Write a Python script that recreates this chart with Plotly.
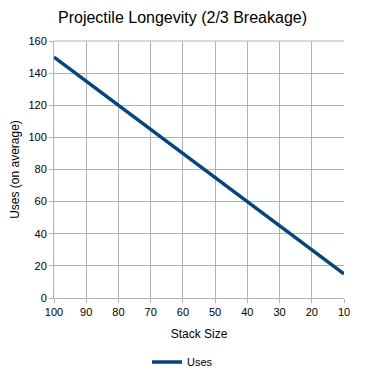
import plotly.graph_objects as go

stack_size = [100, 90, 80, 70, 60, 50, 40, 30, 20, 10]
uses = [150, 135, 120, 105, 90, 75, 60, 45, 30, 15]
series_name = "Uses"
title = "Projectile Longevity (2/3 Breakage)"
x_title = "Stack Size"
y_title = "Uses (on average)"

grid = "#b3b3b3"
font = "Liberation Sans, Arial, sans-serif"

fig = go.Figure()
fig.add_trace(go.Scatter(
    x=stack_size, y=uses, mode="lines", name=series_name,
    line=dict(color="#004586", width=3.5),
))

fig.update_layout(
    width=365, height=382,
    margin=dict(l=54, r=21, t=41, b=84, autoexpand=False),
    paper_bgcolor="white", plot_bgcolor="white",
    font=dict(family=font, size=11, color="#000000"),
    title=dict(text=title, x=0.5, xref="container", xanchor="center",
               y=1 - 17 / 382, yref="container", yanchor="middle",
               font=dict(size=16, color="#000000")),
    showlegend=True,
    legend=dict(orientation="h", x=0.5, xanchor="center", xref="container",
                y=1 - 362 / 382, yref="container", yanchor="middle",
                font=dict(size=11), itemwidth=30),
)
fig.update_xaxes(
    range=[100, 10], dtick=10, tick0=10, automargin=False,
    showgrid=True, gridcolor=grid, gridwidth=1,
    showline=True, linecolor=grid, linewidth=1,
    ticks="outside", ticklen=4, tickcolor=grid,
    zeroline=False,
    title=dict(text=x_title, font=dict(size=12), standoff=12),
)
fig.update_yaxes(
    range=[0, 160], dtick=20, automargin=False,
    showgrid=True, gridcolor=grid, gridwidth=1,
    showline=True, linecolor=grid, linewidth=1,
    ticks="outside", ticklen=4, tickcolor=grid,
    zeroline=False,
    title=dict(text=y_title, font=dict(size=12), standoff=6),
)
fig.add_shape(type="line", xref="paper", yref="paper", x0=0, x1=1, y0=1, y1=1,
              line=dict(color=grid, width=1))

fig.write_html(
    "out.html",
    config={"displayModeBar": False},
    post_script="document.body.style.margin='0';document.body.style.overflow='hidden';",
)
